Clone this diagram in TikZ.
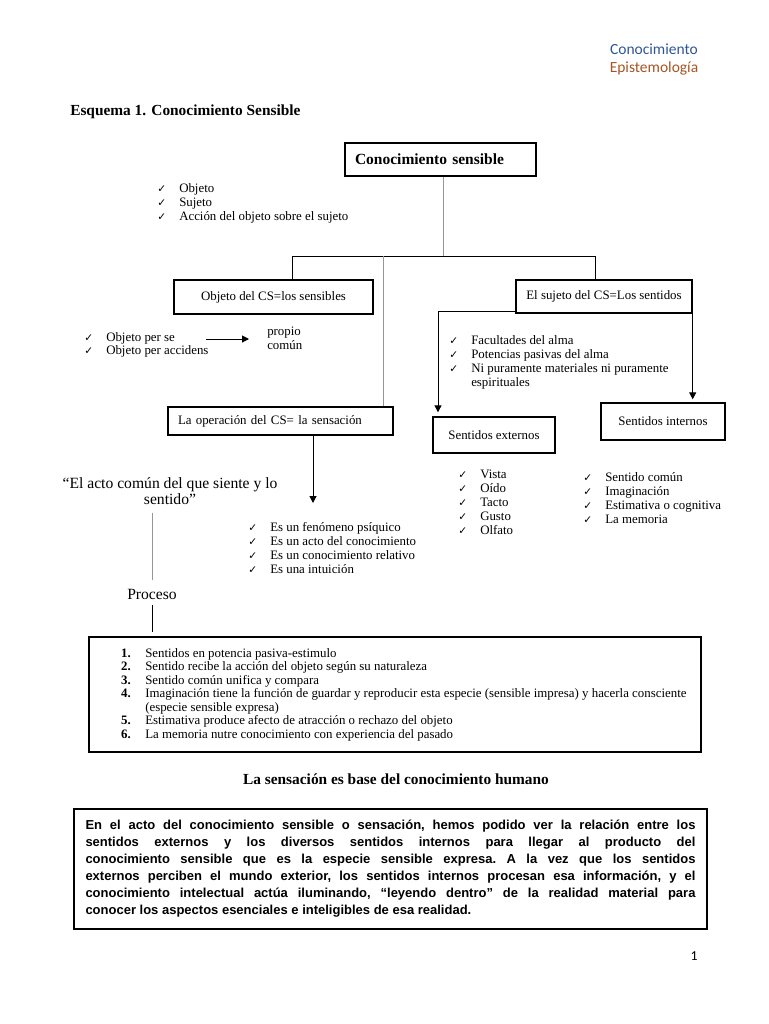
\documentclass[tikz,border=0pt]{standalone}
\usepackage{fontspec}
\setmainfont{Liberation Serif}
\newfontfamily\hdrf{Carlito}
\newfontfamily\arialf{Liberation Sans}
\newfontfamily\ckf{DejaVu Sans}
\usetikzlibrary{arrows.meta}
\definecolor{hblue}{RGB}{47,85,151}
\definecolor{hbrown}{RGB}{166,84,36}
\definecolor{lgray}{RGB}{150,150,150}
\newcommand\ckm{\makebox[17.6pt][l]{\ckf\fontsize{8.5}{9}\selectfont ✓}}
\newcommand\jline[1]{\makebox[488pt][s]{#1}}
\begin{document}
\begin{tikzpicture}[x=0.8pt,y=-0.8pt,
 box/.style={draw, line width=1.1pt, inner sep=0pt, font=\fontsize{10.3}{12}\selectfont},
 txt/.style={inner sep=0pt, font=\fontsize{10.3}{12}\selectfont},
 itm/.style={txt, anchor=base west},
 conn/.style={line width=0.8pt},
 gconn/.style={line width=0.8pt, draw=lgray},
 arr/.style={conn, -{Triangle[length=5.6pt,width=5.6pt]}},
]
\useasboundingbox (0,0) rectangle (768,1024);
% header
\node[inner sep=0pt, anchor=base, font=\hdrf\fontsize{12.4}{14}\selectfont, text=hblue] (h1) at (654,55) {Conocimiento};
\node[inner sep=0pt, anchor=base, font=\hdrf\fontsize{12.4}{14}\selectfont, text=hbrown] (h2) at (654,73) {Epistemología};
\node[inner sep=0pt, anchor=base west, font=\bfseries\fontsize{12.3}{14}\selectfont] (title) at (70,116) {Esquema 1. Conocimiento Sensible};
% top box
\node[box, minimum width=152.8pt, minimum height=26.4pt, text width=136.8pt, inner xsep=8pt, align=left, font=\bfseries\fontsize{12.4}{14}\selectfont] (cs) at (440.5,159.5) {Conocimiento sensible};
\foreach \t [count=\i] in {Objeto, Sujeto, Acción del objeto sobre el sujeto}
  \node[itm] (la\i) at (157,{193+(\i-1)*14}) {\ckm\t};
% level 2 boxes
\node[box, minimum width=159.2pt, minimum height=27.2pt] (obj) at (273.5,297) {Objeto del CS=los sensibles};
\node[box, minimum width=140.8pt, minimum height=26.4pt] (suj) at (604,296.5) {El sujeto del CS=Los sentidos};
\node[box, minimum width=180pt, minimum height=22.4pt, text width=164pt, inner xsep=8pt, align=left] (op) at (280.5,421) {La operación del CS= la sensación};
\node[box, minimum width=97.6pt, minimum height=28.8pt] (ext) at (494,435) {Sentidos externos};
\node[box, minimum width=99.2pt, minimum height=29.6pt] (int) at (663,421.5) {Sentidos internos};
% connectors top
\coordinate (j) at (443,256);
\coordinate (jl) at (292,256);
\coordinate (jr) at (595,256);
\coordinate (jm) at (383,256);
\draw[gconn] (cs.south -| j) -- (j);
\draw[conn] (jl) -- (jr);
\draw[conn] (jl) -- (jl |- obj.north);
\draw[conn] (jr) -- (jr |- suj.north);
\draw[gconn] (jm) -- (jm |- op.north);
% objeto lists
\node[itm] (ps1) at (84,341) {\ckm Objeto per se};
\node[itm] (ps2) at (84,354) {\ckm Objeto per accidens};
\node[itm] (pr1) at (267,335) {propio};
\node[itm] (pr2) at (267,349) {común};
\coordinate (pa) at (206,339);
\coordinate (pb) at (249,339);
\draw[arr] (pa) -- (pb);
% sujeto list
\node[itm] (sa1) at (449,344) {\ckm Facultades del alma};
\node[itm] (sa2) at (449,358) {\ckm Potencias pasivas del alma};
\node[itm] (sa3) at (449,372) {\ckm Ni puramente materiales ni puramente};
\node[itm] (sa4) at (471,386) {espirituales};
\coordinate (ek) at (438,311);
\draw[arr, shorten >=3.2pt] (suj.south west |- ek) -- (ek) -- (ek |- ext.north);
\draw[arr, shorten >=2.4pt] (suj.south east) -- (suj.south east |- int.north);
% operacion
\coordinate (opend) at (313,503);
\draw[arr] (op.south -| opend) -- (opend);
\foreach \t [count=\i] in {Es un fenómeno psíquico, Es un acto del conocimiento, Es un conocimiento relativo, Es una intuición}
  \node[itm] (oa\i) at (248,{531+(\i-1)*14}) {\ckm\t};
% externos / internos
\foreach \t [count=\i] in {Vista, Oído, Tacto, Gusto, Olfato}
  \node[itm] (ea\i) at (458,{478+(\i-1)*14.2}) {\ckm\t};
\foreach \t [count=\i] in {Sentido común, Imaginación, Estimativa o cognitiva, La memoria}
  \node[itm] (ia\i) at (583,{481+(\i-1)*14}) {\ckm\t};
% quote and proceso
\node[inner sep=0pt, anchor=north, align=center, font=\fontsize{12.5}{12.8}\selectfont] (quote) at (170,477) {“El acto común del que siente y lo\\sentido”};
\node[inner sep=0pt, anchor=base, font=\fontsize{12.5}{14}\selectfont] (proceso) at (152,599) {Proceso};
\node[draw, line width=1.1pt, inner sep=0pt, minimum width=489.6pt, minimum height=92pt] (plist) at (395,694.5) {};
\draw[gconn, shorten <=6.4pt, shorten >=7.2pt] (quote.south -| proceso) -- (proceso.north);
\draw[conn, shorten <=4.8pt, shorten >=3.2pt] (proceso.south) -- (proceso.south |- plist.north);
% process items
\foreach \n/\b in {1/657, 2/670.5, 3/684, 4/697.5, 5/724.5, 6/738}
  \node[txt, anchor=base east, font=\bfseries\fontsize{10.3}{12}\selectfont] (pn\n) at (131,\b) {\n.};
\node[itm] (pt1) at (145,657) {Sentidos en potencia pasiva-estimulo};
\node[itm] (pt2) at (145,670.5) {Sentido recibe la acción del objeto según su naturaleza};
\node[itm] (pt3) at (145,684) {Sentido común unifica y compara};
\node[itm] (pt4) at (145,697.5) {Imaginación tiene la función de guardar y reproducir esta especie (sensible impresa) y hacerla consciente};
\node[itm] (pt4b) at (145,711) {(especie sensible expresa)};
\node[itm] (pt5) at (145,724.5) {Estimativa produce afecto de atracción o rechazo del objeto};
\node[itm] (pt6) at (145,738) {La memoria nutre conocimiento con experiencia del pasado};
% bottom
\node[inner sep=0pt, anchor=base, font=\bfseries\fontsize{12.3}{14}\selectfont] (base) at (396,784) {La sensación es base del conocimiento humano};
\node[draw, line width=1.1pt, minimum width=506.4pt, minimum height=96pt, inner xsep=9.2pt, inner ysep=0pt, align=left, font=\arialf\bfseries\fontsize{10.4}{13.6}\selectfont\frenchspacing] (para) at (390.5,869) {%
\jline{En el acto del conocimiento sensible o sensación, hemos podido ver la relación entre los}\\
\jline{sentidos externos y los diversos sentidos internos para llegar al producto del}\\
\jline{conocimiento sensible que es la especie sensible expresa. A la vez que los sentidos}\\
\jline{externos perciben el mundo exterior, los sentidos internos procesan esa información, y el}\\
\jline{conocimiento intelectual actúa iluminando, “leyendo dentro” de la realidad material para}\\
conocer los aspectos esenciales e inteligibles de esa realidad.};
\node[inner sep=0pt, anchor=base, font=\hdrf\fontsize{11}{13}\selectfont] (pg) at (694,960) {1};
\end{tikzpicture}
\end{document}
